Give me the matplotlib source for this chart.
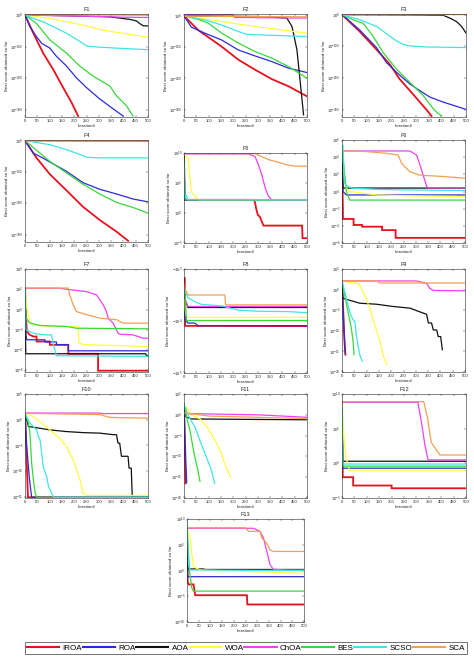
import numpy as np
import matplotlib
matplotlib.use('Agg')
import matplotlib.pyplot as plt
from matplotlib.ticker import FixedLocator, FuncFormatter, NullLocator
from matplotlib.lines import Line2D

plt.rcParams['font.family'] = ['Liberation Sans', 'DejaVu Sans']
plt.rcParams['mathtext.fontset'] = 'custom'
plt.rcParams['mathtext.rm'] = 'Liberation Sans'
plt.rcParams['mathtext.it'] = 'Liberation Sans'

# ---------------- data ----------------
algorithms = ['IROA', 'ROA', 'AOA', 'WOA', 'ChOA', 'BES', 'SCSO', 'SCA']
titles = ['F1', 'F2', 'F3', 'F4', 'F5', 'F6', 'F7', 'F8', 'F9', 'F10', 'F11', 'F12', 'F13']
x_ticks = [0, 50, 100, 150, 200, 250, 300, 350, 400, 450, 500]

# each entry: (iterations, log10(best score))
F1 = {
    'IROA': ([0, 34, 74, 115, 155, 189, 216], [0, -58, -121, -173, -230, -277, -320]),
    'ROA': ([0, 20, 47, 68, 101, 128, 169, 209, 250, 304, 358, 399],
            [0, -37, -69, -90, -105, -131, -162, -199, -230, -266, -297, -320]),
    'AOA': ([0, 200, 345, 426, 453, 466, 480, 500], [0, -3, -6, -14, -19, -27, -34, -35]),
    'WOA': ([0, 101, 236, 304, 372, 439, 500], [0, -11, -32, -46, -55, -63, -71]),
    'ChOA': ([0, 100, 300, 400, 500], [0, -2, -5, -7, -8]),
    'BES': ([0, 47, 101, 169, 223, 277, 345, 372, 412, 439],
            [0, -27, -79, -121, -162, -194, -225, -256, -287, -320]),
    'SCSO': ([0, 34, 74, 115, 169, 223, 250, 304, 372, 500],
             [0, -11, -22, -37, -58, -84, -98, -102, -105, -110]),
    'SCA': ([0, 500], [1, -1]),
}
F2 = {
    'IROA': ([0, 57, 153, 221, 289, 357, 425, 500], [0, -45, -98, -140, -172, -202, -225, -257]),
    'ROA': ([0, 30, 84, 153, 221, 289, 357, 425, 500], [0, -36, -55, -77, -109, -128, -146, -167, -181]),
    'AOA': ([0, 300, 418, 439, 459, 473, 486], [0, -2, -7, -34, -108, -215, -316]),
    'WOA': ([0, 153, 289, 425, 500], [0, -18, -34, -48, -55]),
    'ChOA': ([0, 200, 205, 500], [4, 4, -5, -7]),
    'BES': ([0, 57, 98, 153, 221, 289, 357, 425, 500], [0, -11, -23, -55, -87, -114, -135, -162, -199]),
    'SCSO': ([0, 84, 153, 221, 255, 357, 500], [0, -13, -29, -50, -59, -62, -66]),
    'SCA': ([0, 500], [-1, -3]),
}
F3 = {
    'IROA': ([0, 71, 139, 193, 233, 274, 314, 348, 361], [0, -53, -110, -157, -204, -240, -276, -307, -320]),
    'ROA': ([0, 71, 139, 179, 220, 274, 314, 354, 408, 500],
            [0, -48, -104, -151, -182, -219, -240, -260, -276, -299]),
    'AOA': ([0, 300, 408, 435, 462, 482, 500], [0, -1, -2, -11, -22, -37, -58]),
    'WOA': ([0, 500], [1, 0]),
    'ChOA': ([0, 500], [1.5, 0.5]),
    'BES': ([0, 44, 85, 125, 166, 220, 274, 327, 368, 381, 402],
            [0, -16, -27, -68, -120, -172, -214, -255, -297, -307, -320]),
    'SCSO': ([0, 71, 139, 193, 220, 247, 274, 341, 500], [0, -16, -37, -68, -83, -94, -99, -102, -104]),
    'SCA': ([0, 500], [1.8, 1]),
}
F4 = {
    'IROA': ([0, 47, 101, 169, 236, 304, 372, 419], [0, -55, -107, -159, -211, -253, -290, -319]),
    'ROA': ([0, 34, 74, 101, 169, 236, 304, 372, 439, 500], [0, -40, -56, -68, -98, -134, -155, -170, -186, -195]),
    'AOA': ([0, 500], [0, -1]),
    'WOA': ([0, 500], [0, -0.5]),
    'ChOA': ([0, 500], [0.5, -0.5]),
    'BES': ([0, 101, 169, 236, 304, 372, 439, 500], [0, -66, -103, -139, -170, -197, -213, -231]),
    'SCSO': ([0, 101, 169, 223, 250, 304, 500], [0, -13, -29, -44, -53, -55, -55]),
    'SCA': ([0, 500], [1, 1]),
}
F5 = {
    'IROA': ([0, 3, 285, 289, 293, 300, 308, 316, 323, 480, 482, 500],
             [9.9, 2.2, 2.2, 1.7, 0.8, -0.3, -0.6, -1.4, -2.1, -2.1, -4.2, -4.2]),
    'ROA': ([0, 3, 500], [9.9, 2.2, 2.2]),
    'AOA': ([0, 3, 500], [9.5, 2.2, 2.2]),
    'WOA': ([0, 16, 23, 30, 44, 57, 500], [9.7, 9.2, 6.4, 3.6, 2.8, 2.2, 2.2]),
    'ChOA': ([0, 262, 289, 302, 316, 330, 343, 357, 500], [9.85, 9.85, 9.4, 8.1, 6.4, 4.2, 2.8, 2.2, 2.2]),
    'BES': ([0, 4, 500], [9.0, 2.2, 2.2]),
    'SCSO': ([0, 4, 10, 14, 500], [8.0, 2.5, 3.0, 2.2, 2.2]),
    'SCA': ([0, 289, 316, 343, 398, 411, 452, 500], [9.9, 9.9, 9.4, 8.9, 8.3, 8.1, 7.8, 7.8]),
}
F6 = {
    'IROA': ([0, 4, 47, 47, 82, 82, 163, 163, 218, 218, 500],
             [4.7, -3.2, -3.2, -3.9, -3.9, -4.1, -4.1, -4.5, -4.5, -5.4, -5.4]),
    'ROA': ([0, 4, 18, 500], [4.5, 0.0, -0.4, -0.4]),
    'AOA': ([0, 4, 500], [4.5, 0.4, 0.4]),
    'WOA': ([0, 4, 10, 18, 31, 140, 276, 500], [4.7, 3.9, 1.9, 0.38, 0.0, -0.4, -0.5, -0.6]),
    'ChOA': ([0, 276, 303, 317, 330, 344, 351, 500], [4.72, 4.72, 4.25, 3.1, 1.9, 0.6, 0.42, 0.42]),
    'BES': ([0, 4, 18, 31, 500], [4.5, 3.9, 0.0, -1.0, -1.0]),
    'SCSO': ([0, 4, 10, 24, 45, 140, 230, 500], [5.4, 5.4, 0.96, 0.57, 0.38, 0.25, 0.19, 0.12]),
    'SCA': ([0, 99, 181, 228, 242, 262, 276, 317, 412, 500], [4.75, 4.65, 4.45, 4.25, 3.3, 2.7, 2.3, 1.9, 1.75, 1.55]),
}
F7 = {
    'IROA': ([0, 7, 20, 34, 47, 47, 101, 101, 176, 176, 297, 297, 500],
             [2.1, -2.16, -2.5, -2.66, -2.66, -3.15, -3.15, -3.48, -3.48, -4.36, -4.36, -6.03, -6.03]),
    'ROA': ([0, 4, 7, 81, 81, 128, 128, 176, 176, 500],
            [2.0, -2.5, -2.98, -2.98, -3.2, -3.2, -3.47, -3.47, -4.07, -4.07]),
    'AOA': ([0, 3, 490, 493, 500], [2.0, -4.36, -4.36, -4.5, -4.55]),
    'WOA': ([0, 7, 14, 20, 34, 101, 216, 219, 236, 500], [2.1, 0.13, -0.5, -1.2, -1.5, -1.67, -1.67, -3.3, -3.46, -3.64]),
    'ChOA': ([0, 142, 169, 250, 291, 304, 318, 331, 338, 358, 372, 378, 385, 439, 480, 500],
             [2.1, 2.1, 2.0, 1.77, 1.44, 0.95, 0.46, -0.2, -0.85, -1.34, -2.0, -2.33, -2.43, -2.5, -2.82, -2.82]),
    'BES': ([0, 4, 20, 61, 169, 209, 500], [2.1, -0.85, -1.34, -1.57, -1.67, -1.84, -1.9]),
    'SCSO': ([0, 3, 14, 34, 54, 88, 108, 115, 128, 500],
             [2.0, -2.0, -2.1, -2.33, -2.43, -2.5, -2.5, -3.48, -4.56, -4.62]),
    'SCA': ([0, 176, 182, 196, 209, 250, 304, 372, 399, 500], [2.12, 2.12, 1.44, 0.46, -0.2, -0.5, -0.85, -1.0, -1.34, -1.34]),
}
# F8: best score itself (negative values)
F8 = {
    'IROA': ([0, 3, 5, 500], [-1500, -1500, -12400, -12560]),
    'ROA': ([0, 3, 16, 44, 57, 500], [-3160, -8910, -10960, -10960, -12300, -12300]),
    'AOA': ([0, 3, 10, 16, 500], [-2000, -4270, -4570, -5500, -5500]),
    'WOA': ([0, 3, 10, 16, 500], [-2500, -5750, -8320, -8510, -8510]),
    'ChOA': ([0, 3, 16, 500], [-2500, -3630, -5250, -5250]),
    'BES': ([0, 3, 10, 500], [-2000, -2350, -9770, -9770]),
    'SCSO': ([0, 5, 16, 44, 71, 98, 153, 221, 289, 425, 500],
             [-2000, -2750, -3550, -4270, -4790, -4900, -5130, -6170, -6460, -6610, -6920]),
    'SCA': ([0, 3, 16, 166, 169, 500], [-2000, -2350, -3160, -3160, -4900, -4900]),
}
F9 = {
    'IROA': ([0, 2, 5, 8, 11, 14], [2.1, -1, -5, -10, -13.5, -15.8]),
    'ROA': ([0, 3, 6, 10, 13], [2.1, -2, -7, -12, -15.5]),
    'AOA': ([0, 3, 72, 140, 208, 276, 330, 344, 351, 364, 371, 385, 391, 401, 408],
            [2.1, -2.1, -3.3, -3.55, -4.1, -4.5, -5.7, -6.0, -8.1, -8.1, -9.8, -9.8, -11.4, -11.4, -14.6]),
    'WOA': ([0, 65, 72, 92, 113, 133, 154, 167, 181], [2.1, 1.5, 1.1, -1.3, -4.5, -8.5, -12.6, -15.8, -18.2]),
    'ChOA': ([0, 303, 344, 357, 371, 500], [2.1, 2.1, 1.5, 0.3, -0.2, -0.3]),
    'BES': ([0, 11, 24, 38, 45, 49], [2.1, -1.3, -5.3, -9.4, -12.6, -15.8]),
    'SCSO': ([0, 18, 31, 38, 45, 52, 58, 65, 72, 82], [2.1, -2.1, -5.3, -6.5, -7.3, -7.7, -11.0, -13.4, -15.8, -17.4]),
    'SCA': ([0, 140, 154, 500], [2.12, 2.12, 1.6, 1.6]),
}
F10 = {
    'IROA': ([0, 7, 12, 500], [1.26, -8.4, -15.05, -15.05]),
    'ROA': ([0, 7, 18, 27, 500], [1.26, -5.1, -11.5, -15.05, -15.05]),
    'AOA': ([0, 14, 101, 169, 236, 304, 358, 372, 378, 385, 392, 419, 423, 432, 436, 500],
            [1.26, -1.3, -1.97, -2.3, -2.5, -2.6, -2.9, -2.9, -4.55, -4.55, -7.1, -7.1, -9.4, -9.4, -15.05, -15.05]),
    'WOA': ([0, 7, 34, 61, 101, 115, 142, 169, 196, 223, 236, 250, 500],
            [1.26, 1.26, 0.6, -0.35, -1.97, -2.6, -3.6, -5.2, -7.8, -11.6, -14.2, -14.7, -14.7]),
    'ChOA': ([0, 304, 311, 500], [1.3, 1.3, 1.2, 1.2]),
    'BES': ([0, 14, 20, 27, 34, 41, 47, 500], [1.26, -0.67, -2.6, -8.4, -11.6, -14.2, -15.05, -15.05]),
    'SCSO': ([0, 20, 34, 47, 54, 61, 68, 74, 88, 95, 108, 115, 500],
             [1.26, -0.68, -1.3, -1.97, -3.26, -3.9, -6.5, -9.1, -11.0, -12.9, -14.2, -15.05, -15.05]),
    'SCA': ([0, 304, 345, 500], [1.25, 1.0, 0.45, 0.3]),
}
F11 = {
    'IROA': ([0, 3, 6], [2.5, -8, -16.5]),
    'ROA': ([0, 4, 8, 11], [2.5, -5, -12, -16.3]),
    'AOA': ([0, 8, 30, 500], [2.5, -0.5, -1.0, -1.2]),
    'WOA': ([0, 30, 65, 95, 125, 150, 170, 190], [2.5, 0, -1, -3, -6, -9, -12.5, -15]),
    'ChOA': ([0, 300, 500], [0.3, 0.0, -0.6]),
    'BES': ([0, 10, 25, 40, 55, 65], [2.5, -0.5, -4, -9, -13, -16]),
    'SCSO': ([0, 20, 45, 70, 90, 110, 125], [2.5, -0.5, -3, -7, -10, -13, -16.5]),
    'SCA': ([0, 100, 500], [0.5, -0.3, -0.9]),
}
F12 = {
    'IROA': ([0, 3, 45, 45, 200, 200, 500], [8.5, -2.0, -2.0, -3.2, -3.2, -3.6, -3.6]),
    'ROA': ([0, 3, 500], [8.0, -0.7, -0.7]),
    'AOA': ([0, 3, 500], [8.0, 0.3, 0.3]),
    'WOA': ([0, 5, 15, 30, 500], [8.5, 5, 1, -1.0, -1.0]),
    'ChOA': ([0, 306, 320, 335, 347, 500], [8.8, 8.8, 6, 2.5, 0.5, 0.5]),
    'BES': ([0, 3, 500], [8.0, -0.4, -0.4]),
    'SCSO': ([0, 3, 500], [8.0, -0.1, -0.1]),
    'SCA': ([0, 330, 345, 360, 395, 500], [8.9, 8.9, 6.5, 3, 1.2, 1.2]),
}
F13 = {
    'IROA': ([0, 3, 7, 28, 35, 256, 258, 500], [8.24, -2.2, -2.7, -2.7, -4.8, -4.8, -6.6, -6.6]),
    'ROA': ([0, 3, 500], [6.0, -1.2, -1.2]),
    'AOA': ([0, 4, 71, 75, 500], [8.2, 0.3, 0.3, 0.2, 0.2]),
    'WOA': ([0, 14, 21, 28, 43, 57, 500], [8.24, 6.3, 3.0, 0.75, 0.4, 0.1, -0.55]),
    'ChOA': ([0, 284, 312, 327, 341, 355, 369, 426, 500], [8.2, 8.2, 7.6, 6.3, 3.7, 1.1, 0.23, 0.1, 0.1]),
    'BES': ([0, 11, 21, 28, 500], [8.24, -0.2, -3.5, -4.0, -4.0]),
    'SCSO': ([0, 7, 14, 500], [9.5, 1.1, 0.1, 0.0]),
    'SCA': ([0, 249, 263, 312, 320, 341, 355, 369, 500], [8.3, 8.3, 7.6, 7.6, 6.3, 5.3, 4.0, 3.7, 3.7]),
}

# y-axis ranges (log10 exponents) and ticks
y_ranges = [(-323, 3), (-323, 6), (-323, 2), (-323, 2), (-5, 10), (-6, 6), (-6.16, 4),
            (None, None), (-20, 5), (-15.2, 5), (-20, 5), (-5, 10), (-10, 10)]
y_tick_exps = [[0, -100, -200, -300], [0, -100, -200, -300], [0, -100, -200, -300],
               [0, -100, -200, -300], [10, 5, 0, -5], [6, 4, 2, 0, -2, -4, -6],
               [4, 2, 0, -2, -4, -6], [3, 4, 5], [5, 0, -5, -10, -15, -20],
               [5, 0, -5, -10, -15], [5, 0, -5, -10, -15, -20], [10, 5, 0, -5],
               [10, 5, 0, -5, -10]]

# ---------------- style / layout ----------------
colors = {'IROA': '#e8101c', 'ROA': '#2b2bd9', 'AOA': '#111111', 'WOA': '#ffff40',
          'ChOA': '#f040f0', 'BES': '#38d838', 'SCSO': '#40e4e4', 'SCA': '#f4a050'}
widths = {'IROA': 1.3, 'ROA': 0.9, 'AOA': 0.9, 'WOA': 0.9, 'ChOA': 0.9,
          'BES': 0.9, 'SCSO': 0.9, 'SCA': 0.9}

W, H = 474, 658
# (left, top, width, height) in pixels
boxes = [(25, 14, 123, 103), (184, 14, 123, 103), (342, 14, 124, 103),
         (25, 140, 123, 102), (184, 153, 123, 90), (342, 140, 123, 103),
         (25, 269, 123, 103), (184, 269, 123, 104), (342, 269, 123, 103),
         (25, 394, 123, 104), (184, 394, 123, 104), (342, 394, 124, 104),
         (187, 519, 117, 103)]

panels = [F1, F2, F3, F4, F5, F6, F7, F8, F9, F10, F11, F12, F13]

fig = plt.figure(figsize=(W / 100, H / 100), dpi=100)
fig.patch.set_facecolor('white')

spine_col = '#262626'
for i, (data, title, box) in enumerate(zip(panels, titles, boxes)):
    l, t, w, h = box
    ax = fig.add_axes([l / W, 1 - (t + h) / H, w / W, h / H])
    for alg in algorithms:
        it, v = data[alg]
        if title == 'F8':
            y = np.array(v, dtype=float)
        else:
            y = 10.0 ** np.array(v, dtype=float)
        ax.plot(it, y, color=colors[alg], lw=widths[alg], solid_joinstyle='miter')
    if title == 'F8':
        ax.set_yscale('symlog', linthresh=1.0)
        ax.set_ylim(-1e5, -1e3)
        exps = y_tick_exps[i]
        ax.yaxis.set_major_locator(FixedLocator([-10.0 ** e for e in exps]))
        ax.yaxis.set_major_formatter(FuncFormatter(
            lambda val, pos: '$-10^{%d}$' % round(np.log10(-val)) if val < 0 else ''))
    else:
        ax.set_yscale('log')
        lo, hi = y_ranges[i]
        ax.set_ylim(10.0 ** lo, 10.0 ** hi)
        exps = y_tick_exps[i]
        ax.yaxis.set_major_locator(FixedLocator([10.0 ** e for e in exps]))
        ax.yaxis.set_major_formatter(FuncFormatter(
            lambda val, pos: '$10^{%d}$' % round(np.log10(val)) if val > 0 else ''))
    ax.yaxis.set_minor_locator(NullLocator())
    ax.set_xlim(0, 500)
    ax.set_xticks(x_ticks)
    ax.tick_params(axis='both', which='major', direction='in', length=1.5, width=0.3,
                   labelsize=3.0, pad=1.2, top=True, right=True, colors=spine_col)
    for s in ax.spines.values():
        s.set_linewidth(0.4)
        s.set_color(spine_col)
    ax.set_title(title, fontsize=4.0, pad=2, color=spine_col)
    ax.set_xlabel('Iteration#', fontsize=3.2, labelpad=1, color=spine_col)
    ax.set_ylabel('Best score obtained so far', fontsize=3.2, labelpad=1, color=spine_col)

handles = [Line2D([0], [0], color=colors[a], lw=1.5) for a in algorithms]
leg = fig.legend(handles, algorithms, loc='lower left', ncol=8, mode='expand',
                 bbox_to_anchor=(25 / W, 1 - 654 / H, 442 / W, 12 / H),
                 fontsize=5.8, handlelength=4.0, handletextpad=0.4, columnspacing=0.6,
                 frameon=True, fancybox=False, borderpad=0.25, borderaxespad=0.0)
leg.get_frame().set_edgecolor('#333333')
leg.get_frame().set_linewidth(0.6)

fig.savefig('out.png', dpi=100, facecolor='white')
